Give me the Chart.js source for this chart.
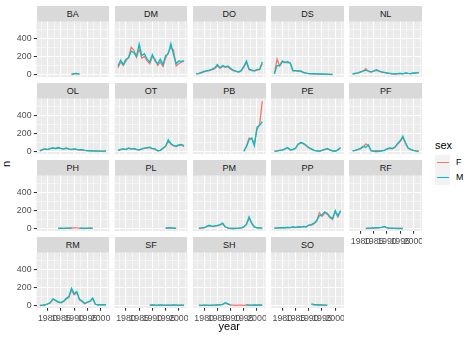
<!DOCTYPE html>
<html><head><meta charset="utf-8">
<script src="https://cdn.jsdelivr.net/npm/chart.js@4.4.1/dist/chart.umd.min.js"></script>
<style>
html,body{margin:0;padding:0;background:#fff;}
#wrap{position:relative;width:474px;height:338px;overflow:hidden;font-family:"Liberation Sans",Arial,Helvetica,sans-serif;}
.strip{position:absolute;background:#D9D9D9;color:#1A1A1A;font-size:9px;line-height:16px;text-align:center;white-space:nowrap;}
.lab{position:absolute;white-space:nowrap;color:#000;}
.key{position:absolute;background:#F2F2F2;}
.keyline{position:absolute;height:1.3px;}
</style></head><body><div id="wrap"></div>
<script>
const _ = null;
const years = [1977,1978,1979,1980,1981,1982,1983,1984,1985,1986,1987,1988,1989,1990,1991,1992,1993,1994,1995,1996,1997,1998,1999,2000,2001,2002];
const speciesIds = ["BA","DM","DO","DS","NL","OL","OT","PB","PE","PF","PH","PL","PM","PP","RF","RM","SF","SH","SO"];
const sexLevels = ["F","M"];
const xMajorTicks = [1980,1985,1990,1995,2000];
const xMinorTicks = [1977.5,1982.5,1987.5,1992.5,1997.5,2002.5];
const yMajorTicks = [0,200,400];
const yMinorTicks = [100,300,500];

const BA_F = [_,_,_,_,_,_,_,_,_,_,_,_,3,9,11,5,_,_,_,_,_,_,_,_,_,_];
const BA_M = [_,_,_,_,_,_,_,_,_,_,_,_,4,12,14,6,_,_,_,_,_,_,_,_,_,_];
const DM_F = [75,140,100,150,190,300,270,190,280,180,200,150,120,200,170,100,140,90,180,240,300,270,95,120,140,145];
const DM_M = [95,160,110,170,185,260,240,200,335,210,230,170,140,220,150,120,170,110,210,230,340,220,120,150,145,150];
const DO_F = [8,12,20,30,40,45,55,65,95,70,90,80,85,60,45,35,28,40,80,135,55,45,40,50,55,120];
const DO_M = [10,15,25,35,45,50,60,75,110,75,100,85,95,70,50,40,30,45,90,150,60,50,45,55,60,140];
const DS_F = [8,170,95,140,140,130,130,42,42,40,36,22,16,11,10,9,7,7,6,5,4,3,2,_,_,_];
const DS_M = [10,100,100,150,130,145,125,45,45,42,40,25,18,12,11,10,8,8,7,6,5,4,3,_,_,_];
const NL_F = [8,12,18,28,38,65,35,28,38,48,38,28,22,18,13,9,7,10,13,9,17,13,10,17,16,22];
const NL_M = [10,15,20,30,40,50,40,30,40,55,40,30,25,20,15,10,8,12,15,10,20,15,12,20,18,25];
const OL_F = [15,20,28,22,33,38,33,40,33,28,36,28,23,27,23,18,20,13,10,9,7,7,5,5,4,7];
const OL_M = [5,25,30,25,35,40,35,45,35,30,40,30,25,30,25,20,22,15,12,10,8,8,6,6,5,8];
const OT_F = [12,22,27,23,35,27,30,22,18,27,36,40,45,30,27,9,13,35,55,115,80,62,55,68,72,58];
const OT_M = [15,25,30,25,40,30,35,25,20,30,40,45,50,35,30,10,15,40,60,130,90,70,60,75,80,65];
const PB_F = [_,_,_,_,_,_,_,_,_,_,_,_,_,_,_,_,_,_,4,60,150,140,90,240,300,555];
const PB_M = [_,_,_,_,_,_,_,_,_,_,_,_,_,_,_,_,_,_,5,55,130,150,65,270,290,330];
const PE_F = [4,7,13,18,27,40,18,22,36,85,95,85,65,40,27,13,9,4,13,22,30,18,9,4,18,40];
const PE_M = [5,8,15,20,30,45,20,25,40,80,100,90,70,45,30,15,10,5,15,25,35,20,10,5,20,45];
const PF_F = [8,13,22,30,50,85,65,8,8,10,8,9,13,27,36,32,45,80,110,155,90,36,22,13,7,4];
const PF_M = [10,15,25,35,60,45,75,10,3,2,3,10,15,30,40,35,50,90,120,170,100,40,25,15,8,5];
const PH_F = [_,_,_,_,_,_,_,2,4,3,5,4,7,9,8,5,4,3,4,5,4,_,_,_,_,_];
const PH_M = [_,_,_,_,_,_,_,3,5,4,6,5,8,_,_,6,5,4,5,6,5,_,_,_,_,_];
const PL_F = [_,_,_,_,_,_,_,_,_,_,_,_,_,_,_,_,_,_,4,8,7,5,3,_,_,_];
const PL_M = [_,_,_,_,_,_,_,_,_,_,_,_,_,_,_,_,_,_,5,10,8,6,4,_,_,_];
const PM_F = [_,4,7,10,22,33,22,27,30,40,52,18,7,2,2,3,4,7,18,45,115,55,18,9,7,4];
const PM_M = [_,5,8,12,25,37,25,30,35,45,60,20,8,3,2,3,5,8,20,50,130,60,20,10,8,5];
const PP_F = [4,7,9,11,9,13,11,18,13,18,16,22,18,36,40,55,80,175,135,170,160,120,100,185,130,185];
const PP_M = [5,8,10,12,10,15,12,20,15,20,18,25,20,40,45,60,90,140,150,185,170,130,110,200,140,200];
const RF_F = [_,_,_,_,_,2,4,5,7,8,10,13,20,8,4,4,3,2,2,2,_,_,_,_,_,_];
const RF_M = [_,_,_,_,_,3,5,6,8,10,12,15,25,10,5,5,4,3,3,2,_,_,_,_,_,_];
const RM_F = [2,4,9,18,32,68,55,36,32,45,72,90,170,118,140,63,45,22,36,45,76,13,9,11,9,9];
const RM_M = [3,5,10,20,35,75,60,40,35,50,80,100,190,130,155,70,50,25,40,50,85,15,10,12,10,10];
const SF_F = [_,_,_,_,_,_,_,_,_,_,_,_,4,7,5,4,6,5,4,5,4,6,5,4,5,4];
const SF_M = [_,_,_,_,_,_,_,_,_,_,_,_,5,8,6,5,7,6,5,6,5,7,6,5,6,5];
const SH_F = [_,4,3,5,4,3,4,5,7,9,13,28,18,6,5,4,6,5,4,7,5,4,6,5,7,5];
const SH_M = [_,5,4,6,5,4,5,6,8,10,15,33,20,8,_,_,_,_,_,8,6,5,7,6,8,6];
const SO_F = [_,_,_,_,_,_,_,_,_,_,_,_,_,_,15,10,8,7,6,5,4,_,_,_,_,_];
const SO_M = [_,_,_,_,_,_,_,_,_,_,_,_,_,_,20,12,10,8,8,6,5,_,_,_,_,_];

const seriesF = {BA:BA_F,DM:DM_F,DO:DO_F,DS:DS_F,NL:NL_F,OL:OL_F,OT:OT_F,PB:PB_F,PE:PE_F,PF:PF_F,PH:PH_F,PL:PL_F,PM:PM_F,PP:PP_F,RF:RF_F,RM:RM_F,SF:SF_F,SH:SH_F,SO:SO_F};
const seriesM = {BA:BA_M,DM:DM_M,DO:DO_M,DS:DS_M,NL:NL_M,OL:OL_M,OT:OT_M,PB:PB_M,PE:PE_M,PF:PF_M,PH:PH_M,PL:PL_M,PM:PM_M,PP:PP_M,RF:RF_M,RM:RM_M,SF:SF_M,SH:SH_M,SO:SO_M};
const colF = '#F8766D', colM = '#00BFC4';

// ggplot-like continuous expansion (5%)
let vmin = Infinity, vmax = -Infinity;
speciesIds.forEach(sp => [seriesF[sp], seriesM[sp]].forEach(a => a.forEach(v => { if (v !== null) { vmin = Math.min(vmin, v); vmax = Math.max(vmax, v); } })));
const yPad = (vmax - vmin) * 0.05;
const yMin = vmin - yPad, yMax = vmax + yPad;
const xPad = (years[years.length-1] - years[0]) * 0.05;
const xMin = years[0] - xPad, xMax = years[years.length-1] + xPad;

Chart.defaults.font.family = '"Liberation Sans", Arial, Helvetica, sans-serif';

const bgPlugin = {
  id: 'panelBg',
  beforeDraw(chart) {
    const {ctx, chartArea: a} = chart;
    ctx.save();
    ctx.fillStyle = '#EBEBEB';
    ctx.fillRect(a.left, a.top, a.right - a.left, a.bottom - a.top);
    ctx.restore();
  }
};

const wrap = document.getElementById('wrap');
const PL = 36.5, PW = 72.7, GAP = 5.5, PT = 5.5, STRIPH = 16, PH = 55.5, RGAP = 5.5;
const YAXW = 36.5, XAXH = 16;
const LW = 1.3;
const xAll = xMinorTicks.concat(xMajorTicks).sort((a,b)=>a-b);
const yAll = yMinorTicks.concat(yMajorTicks).sort((a,b)=>a-b);
const isMajX = v => xMajorTicks.includes(v);
const isMajY = v => yMajorTicks.includes(v);

speciesIds.forEach((sp, i) => {
  const r = Math.floor(i / 5), c = i % 5;
  const px = PL + c * (PW + GAP);
  const st = PT + r * (STRIPH + PH + RGAP);
  const py = st + STRIPH;
  const s = document.createElement('div');
  s.className = 'strip';
  s.style.left = px + 'px'; s.style.top = st + 'px';
  s.style.width = PW + 'px'; s.style.height = STRIPH + 'px';
  s.textContent = sp;
  wrap.appendChild(s);

  const hasY = c === 0;
  const hasX = i + 5 >= speciesIds.length;
  const left = hasY ? Math.floor(px - YAXW) : Math.floor(px);
  const top = Math.floor(py);
  const right = Math.ceil(px + PW);
  const bottom = Math.ceil(py + PH + (hasX ? XAXH : 0));
  const W = right - left, H = bottom - top;
  const cv = document.createElement('canvas');
  cv.width = W; cv.height = H;
  Object.assign(cv.style, {position:'absolute', left:left+'px', top:top+'px', width:W+'px', height:H+'px'});
  wrap.appendChild(cv);
  const yAxisW = hasY ? px - left : 0;
  const padLeft = hasY ? 0 : px - left;
  const padRight = right - (px + PW);
  const padTop = py - top;
  const xAxisH = hasX ? bottom - (py + PH) : 0;
  const padBottom = hasX ? 0 : bottom - (py + PH);

  const mk = (arr) => years.map((yr, k) => ({x: yr, y: arr[k]}));
  new Chart(cv, {
    type: 'line',
    data: { datasets: [
      {label:'M', data: mk(seriesM[sp]), borderColor: colM, borderWidth: LW, pointRadius: 0, tension: 0, spanGaps: false, order: 0, fill: false},
      {label:'F', data: mk(seriesF[sp]), borderColor: colF, borderWidth: LW, pointRadius: 0, tension: 0, spanGaps: false, order: 1, fill: false}
    ]},
    options: {
      responsive: false, animation: false, events: [],
      layout: { padding: {left: padLeft, right: padRight, top: padTop, bottom: padBottom} },
      plugins: { legend: {display: false}, tooltip: {enabled: false} },
      scales: {
        x: {
          type: 'linear', position: 'bottom', min: xMin, max: xMax,
          afterBuildTicks: sc => { sc.ticks = xAll.map(v => ({value: v})); },
          afterFit: sc => { sc.height = xAxisH; sc.paddingLeft = 0; sc.paddingRight = 0; sc.paddingTop = 0; sc.paddingBottom = 0; },
          border: {display: false},
          grid: {
            color: '#FFFFFF',
            lineWidth: ctx => (ctx.tick && isMajX(ctx.tick.value)) ? 1.07 : 0.53,
            drawTicks: hasX, tickLength: 2.75, tickWidth: 1.07,
            tickColor: ctx => (ctx.tick && isMajX(ctx.tick.value)) ? '#333333' : 'rgba(0,0,0,0)'
          },
          ticks: {
            display: hasX, autoSkip: false, maxRotation: 0, minRotation: 0, padding: 2.2,
            color: '#4D4D4D', font: {size: 8.8},
            callback: v => isMajX(v) ? String(v) : ''
          }
        },
        y: {
          type: 'linear', position: 'left', min: yMin, max: yMax,
          afterBuildTicks: sc => { sc.ticks = yAll.map(v => ({value: v})); },
          afterFit: sc => { sc.width = yAxisW; sc.paddingLeft = 0; sc.paddingRight = 0; sc.paddingTop = 0; sc.paddingBottom = 0; },
          border: {display: false},
          grid: {
            color: '#FFFFFF',
            lineWidth: ctx => (ctx.tick && isMajY(ctx.tick.value)) ? 1.07 : 0.53,
            drawTicks: hasY, tickLength: 2.75, tickWidth: 1.07,
            tickColor: ctx => (ctx.tick && isMajY(ctx.tick.value)) ? '#333333' : 'rgba(0,0,0,0)'
          },
          ticks: {
            display: hasY, autoSkip: false, padding: 2.2,
            color: '#4D4D4D', font: {size: 8.8},
            callback: v => isMajY(v) ? String(v) : ''
          }
        }
      }
    },
    plugins: [bgPlugin]
  });
});

// axis titles
function addLabel(text, css) {
  const d = document.createElement('div');
  d.className = 'lab';
  d.textContent = text;
  Object.assign(d.style, css);
  wrap.appendChild(d);
  return d;
}
addLabel('year', {left: (PL + (5*PW + 4*GAP)/2) + 'px', top: '320.5px', fontSize: '11px', lineHeight: '11px', transform: 'translateX(-50%)'});
addLabel('n', {left: '5.75px', top: '164px', fontSize: '11px', lineHeight: '11px', transform: 'translate(-50%,-50%) rotate(-90deg)'});

// legend
const LGX = 435, KEY = 15.4, KEYTOP = 154.6;
addLabel('sex', {left: LGX + 'px', top: '140.3px', fontSize: '11px', lineHeight: '11px'});
sexLevels.forEach((lv, k) => {
  const ky = KEYTOP + k * KEY;
  const box = document.createElement('div');
  box.className = 'key';
  Object.assign(box.style, {left: LGX + 'px', top: ky + 'px', width: KEY + 'px', height: KEY + 'px'});
  const ln = document.createElement('div');
  ln.className = 'keyline';
  Object.assign(ln.style, {left: (KEY*0.1) + 'px', width: (KEY*0.8) + 'px', top: (KEY/2 - 0.65) + 'px', background: lv === 'F' ? colF : colM});
  box.appendChild(ln);
  wrap.appendChild(box);
  addLabel(lv, {left: (LGX + KEY + 5.5) + 'px', top: ky + 'px', fontSize: '8.8px', lineHeight: KEY + 'px'});
});
</script>
</body></html>
